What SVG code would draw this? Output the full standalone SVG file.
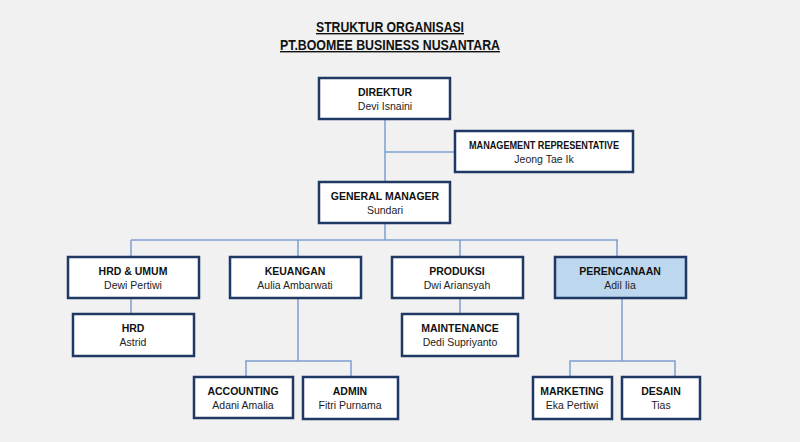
<svg xmlns="http://www.w3.org/2000/svg" width="800" height="442" viewBox="0 0 800 442">
<style>
.b{fill:#fff;stroke:#1f3864;stroke-width:2.5}
.hl{fill:#bdd7ee}
.t{font-family:"Liberation Sans",Arial,sans-serif;font-size:10.5px;font-weight:bold;fill:#111;text-anchor:middle}
.n{font-family:"Liberation Sans",Arial,sans-serif;font-size:10.5px;fill:#222;text-anchor:middle}
.h{font-family:"Liberation Sans",Arial,sans-serif;font-size:14px;font-weight:bold;fill:#111;text-anchor:middle;text-decoration:underline}
.c{fill:none;stroke:#7f9fcf;stroke-width:1.5}
</style>
<rect width="800" height="442" fill="#f1f1f1"/>
<text class="h" x="390" y="32" textLength="148" lengthAdjust="spacingAndGlyphs">STRUKTUR ORGANISASI</text>
<text class="h" x="390" y="50" textLength="220" lengthAdjust="spacingAndGlyphs">PT.BOOMEE BUSINESS NUSANTARA</text>
<g id="connectors">
<path class="c" d="M385 119V182M385 152H455M385 223V240M131 240H618M131 240V257M298 240V257M460 240V257M617 240V257"/>
<path class="c" d="M131 298V314M460 298V314M298 298V361M246 377V361H351V377M622 298V361M570 377V361H675V377"/>
</g>
<g id="direktur"><rect class="b" x="319" y="78" width="131" height="41"/><text class="t" x="385" y="96">DIREKTUR</text><text class="n" x="385" y="110">Devi Isnaini</text></g>
<g id="mr"><rect class="b" x="455" y="131" width="178" height="41"/><text class="t" x="544" y="149" textLength="150" lengthAdjust="spacingAndGlyphs">MANAGEMENT REPRESENTATIVE</text><text class="n" x="544" y="163">Jeong Tae Ik</text></g>
<g id="gm"><rect class="b" x="319" y="182" width="131" height="41"/><text class="t" x="385" y="200">GENERAL MANAGER</text><text class="n" x="385" y="214">Sundari</text></g>
<g id="hrdumum"><rect class="b" x="68" y="257" width="131" height="41"/><text class="t" x="133" y="275">HRD &amp; UMUM</text><text class="n" x="133" y="289">Dewi Pertiwi</text></g>
<g id="keuangan"><rect class="b" x="230" y="257" width="131" height="41"/><text class="t" x="295" y="275">KEUANGAN</text><text class="n" x="295" y="289">Aulia Ambarwati</text></g>
<g id="produksi"><rect class="b" x="392" y="257" width="131" height="41"/><text class="t" x="457" y="275">PRODUKSI</text><text class="n" x="457" y="289">Dwi Ariansyah</text></g>
<g id="perencanaan"><rect class="b hl" x="555" y="257" width="131" height="41"/><text class="t" x="620" y="275">PERENCANAAN</text><text class="n" x="620" y="289">Adil Iia</text></g>
<g id="hrd"><rect class="b" x="73" y="314" width="121" height="42"/><text class="t" x="133" y="332">HRD</text><text class="n" x="133" y="346">Astrid</text></g>
<g id="maintenance"><rect class="b" x="402" y="314" width="116" height="42"/><text class="t" x="460" y="332">MAINTENANCE</text><text class="n" x="460" y="346">Dedi Supriyanto</text></g>
<g id="accounting"><rect class="b" x="194" y="377" width="99" height="41"/><text class="t" x="243" y="395">ACCOUNTING</text><text class="n" x="243" y="409">Adani Amalia</text></g>
<g id="admin"><rect class="b" x="303" y="377" width="95" height="42"/><text class="t" x="350" y="395">ADMIN</text><text class="n" x="350" y="409">Fitri Purnama</text></g>
<g id="marketing"><rect class="b" x="533" y="377" width="79" height="42"/><text class="t" x="572" y="395">MARKETING</text><text class="n" x="572" y="409">Eka Pertiwi</text></g>
<g id="desain"><rect class="b" x="622" y="377" width="78" height="42"/><text class="t" x="661" y="395">DESAIN</text><text class="n" x="661" y="409">Tias</text></g>
</svg>
